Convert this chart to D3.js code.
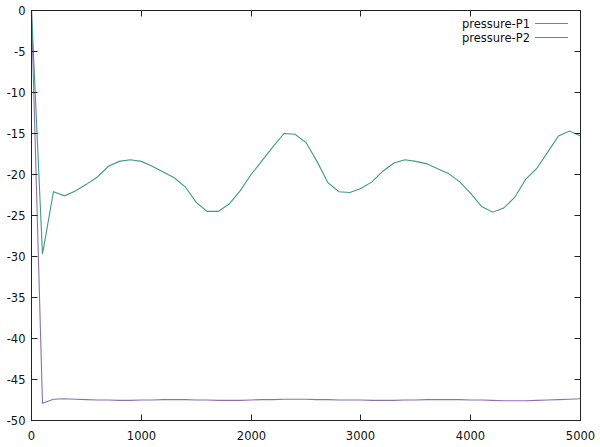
<!DOCTYPE html>
<html>
<head>
<meta charset="utf-8">
<script src="https://cdn.jsdelivr.net/npm/d3@7"></script>
<style>
html,body{margin:0;padding:0;background:#fff;}
svg{display:block;}
text{font-family:"DejaVu Sans",sans-serif;font-size:11.5px;fill:#111;}
</style>
</head>
<body>
<svg id="chart" width="600" height="447"></svg>
<script>
const steps = [0,100,200,300,400,500,600,700,800,900,
  1000,1100,1200,1300,1400,1500,1600,1700,1800,1900,
  2000,2100,2200,2300,2400,2500,2600,2700,2800,2900,
  3000,3100,3200,3300,3400,3500,3600,3700,3800,3900,
  4000,4100,4200,4300,4400,4500,4600,4700,4800,4900,5000];
const pressureP1 = [0,-47.9,-47.4,-47.35,-47.4,-47.45,-47.5,-47.5,-47.55,-47.55,
  -47.5,-47.5,-47.45,-47.45,-47.45,-47.5,-47.5,-47.55,-47.55,-47.55,
  -47.5,-47.45,-47.45,-47.4,-47.4,-47.4,-47.45,-47.45,-47.5,-47.5,
  -47.5,-47.55,-47.55,-47.55,-47.5,-47.5,-47.45,-47.45,-47.45,-47.45,
  -47.5,-47.5,-47.55,-47.6,-47.6,-47.6,-47.55,-47.5,-47.45,-47.4,-47.35];
const pressureP2 = [0,-29.7,-22.1,-22.6,-22.0,-21.2,-20.3,-19.0,-18.4,-18.2,
  -18.4,-19.0,-19.7,-20.4,-21.5,-23.4,-24.5,-24.5,-23.6,-22.0,
  -20.0,-18.3,-16.6,-15.0,-15.1,-16.1,-18.4,-21.0,-22.1,-22.2,
  -21.7,-20.9,-19.6,-18.6,-18.2,-18.4,-18.7,-19.3,-19.9,-20.9,
  -22.3,-23.9,-24.6,-24.1,-22.8,-20.6,-19.3,-17.3,-15.3,-14.7,-15.3];
const seriesNames = ["pressure-P1","pressure-P2"];
const seriesColors = ["#8e6fae","#3f9a82"];
const xTicks = [0,1000,2000,3000,4000,5000];
const yTicks = [0,-5,-10,-15,-20,-25,-30,-35,-40,-45,-50];

const svg = d3.select("#chart");
const L = 31.5, R = 580.5, T = 10.5, B = 420.5;
const x = d3.scaleLinear().domain([0,5000]).range([L,R]);
const y = d3.scaleLinear().domain([-50,0]).range([B,T]);
const tick = 6;

// series
const line = d3.line().x((d,i)=>x(steps[i])).y(d=>y(d));
[pressureP1,pressureP2].forEach((s,k)=>{
  svg.append("path").datum(s).attr("d",line)
    .attr("fill","none").attr("stroke",seriesColors[k])
    .attr("stroke-width",1.1);
});

// border
svg.append("rect").attr("x",L).attr("y",T).attr("width",R-L).attr("height",B-T)
  .attr("fill","none").attr("stroke","#222").attr("stroke-width",1);

// ticks
const g = svg.append("g").attr("stroke","#222").attr("stroke-width",1);
yTicks.forEach(v=>{
  const yy = Math.round(y(v)-0.5)+0.5;
  g.append("line").attr("x1",L).attr("x2",L+tick).attr("y1",yy).attr("y2",yy);
  g.append("line").attr("x1",R).attr("x2",R-tick).attr("y1",yy).attr("y2",yy);
  svg.append("text").attr("x",L-6).attr("y",yy).attr("dy","0.35em")
    .attr("text-anchor","end").text(v);
});
xTicks.forEach(v=>{
  const xx = Math.round(x(v)-0.5)+0.5;
  g.append("line").attr("x1",xx).attr("x2",xx).attr("y1",B).attr("y2",B-tick);
  g.append("line").attr("x1",xx).attr("x2",xx).attr("y1",T).attr("y2",T+tick);
  svg.append("text").attr("x",xx).attr("y",B+15.5).attr("dy","0.35em")
    .attr("text-anchor","middle").text(v);
});

// legend
seriesNames.forEach((n,k)=>{
  const yy = 23.5 + k*14;
  svg.append("text").attr("x",530).attr("y",yy).attr("dy","0.35em")
    .attr("text-anchor","end").text(n);
  svg.append("line").attr("x1",535).attr("x2",568).attr("y1",yy).attr("y2",yy)
    .attr("stroke",seriesColors[k]).attr("stroke-width",1.1);
});
</script>
</body>
</html>
